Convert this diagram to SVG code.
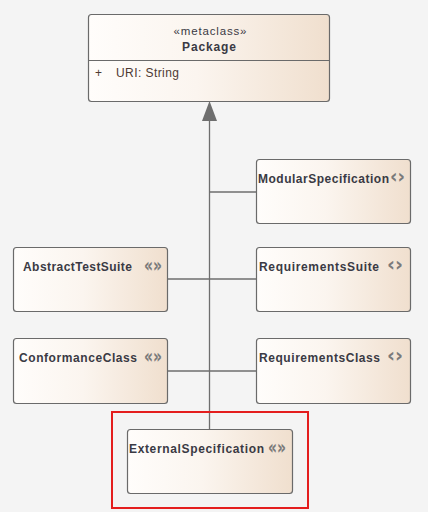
<svg xmlns="http://www.w3.org/2000/svg" width="428" height="512" viewBox="0 0 428 512">
<defs>
<linearGradient id="g" x1="0" y1="0" x2="1" y2="0">
<stop offset="0" stop-color="#fffdfb"/>
<stop offset="0.45" stop-color="#fbf5ef"/>
<stop offset="1" stop-color="#f0dfce"/>
</linearGradient>
<style>
.box{fill:url(#g);stroke:#6a6a6a;stroke-width:1.2}
.name{font-family:"Liberation Sans",Arial,sans-serif;font-weight:bold;font-size:12px;fill:#3a3a44}
.st{font-family:"Liberation Sans",Arial,sans-serif;font-size:11.5px;fill:#3a3a44}
.attr{font-family:"Liberation Sans",Arial,sans-serif;font-size:12px;fill:#4e3a32}
.ico{font-family:"DejaVu Sans",sans-serif;font-weight:bold;font-size:19px;fill:#7a7a7a}
.conn{stroke:#6e6e6e;stroke-width:1.3;fill:none}
</style>
</defs>
<rect width="428" height="512" fill="#f4f4f4"/>
<g id="connectors">
<line class="conn" x1="209.5" y1="120" x2="209.5" y2="429"/>
<line class="conn" x1="209.5" y1="192" x2="256" y2="192"/>
<line class="conn" x1="167" y1="279" x2="256" y2="279"/>
<line class="conn" x1="167" y1="371" x2="256" y2="371"/>
<polygon points="209.5,101 202,121 217,121" fill="#6e6e6e"/>
</g>
<g id="Package">
<rect class="box" x="88.5" y="14.5" width="241" height="87" rx="3"/>
<line x1="88.5" y1="60.5" x2="329.5" y2="60.5" stroke="#6a6a6a" stroke-width="1.2"/>
<text class="st" x="210" y="35" text-anchor="middle" textLength="73">«metaclass»</text>
<text class="name" x="209" y="51" text-anchor="middle" textLength="54">Package</text>
<text class="attr" x="95" y="77">+</text>
<text class="attr" x="116" y="77" textLength="63">URI: String</text>
</g>
<g id="ModularSpecification">
<rect class="box" x="256.5" y="159.5" width="154" height="64" rx="3"/>
<text class="name" x="258" y="183" textLength="131">ModularSpecification</text>
<text class="ico" x="390" y="183" textLength="15" lengthAdjust="spacingAndGlyphs">‹›</text>
</g>
<g id="AbstractTestSuite">
<rect class="box" x="13.5" y="247.5" width="154" height="64" rx="3"/>
<text class="name" x="23" y="271" textLength="109">AbstractTestSuite</text>
<text class="ico" x="144" y="272" textLength="18" lengthAdjust="spacingAndGlyphs">«»</text>
</g>
<g id="RequirementsSuite">
<rect class="box" x="256.5" y="247.5" width="154" height="64" rx="3"/>
<text class="name" x="259" y="271" textLength="120">RequirementsSuite</text>
<text class="ico" x="387" y="271" textLength="16" lengthAdjust="spacingAndGlyphs">‹›</text>
</g>
<g id="ConformanceClass">
<rect class="box" x="13.5" y="338.5" width="154" height="65" rx="3"/>
<text class="name" x="19" y="362" textLength="118">ConformanceClass</text>
<text class="ico" x="144" y="363" textLength="18" lengthAdjust="spacingAndGlyphs">«»</text>
</g>
<g id="RequirementsClass">
<rect class="box" x="256.5" y="338.5" width="154" height="65" rx="3"/>
<text class="name" x="259" y="362" textLength="121">RequirementsClass</text>
<text class="ico" x="387" y="362" textLength="16" lengthAdjust="spacingAndGlyphs">‹›</text>
</g>
<g id="ExternalSpecification">
<rect class="box" x="127.5" y="429.5" width="165" height="64" rx="3"/>
<text class="name" x="129" y="453" textLength="135">ExternalSpecification</text>
<text class="ico" x="268" y="454" textLength="18" lengthAdjust="spacingAndGlyphs">«»</text>
<rect x="112" y="412" width="196" height="96" fill="none" stroke="#e41e1e" stroke-width="2"/>
</g>
</svg>
